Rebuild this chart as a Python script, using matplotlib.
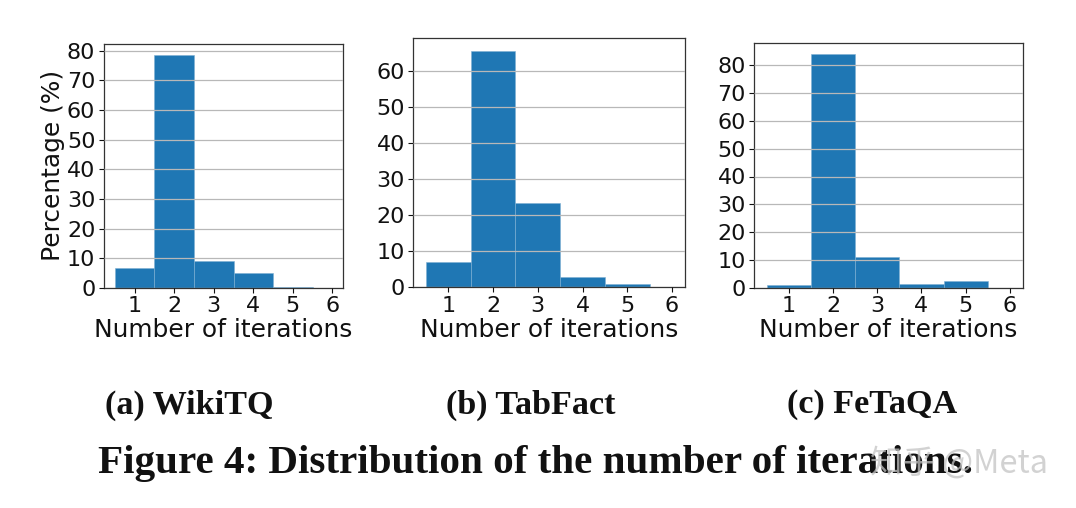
import matplotlib
matplotlib.use('Agg')
import matplotlib.pyplot as plt

# --- Values ---
iterations = [1, 2, 3, 4, 5, 6]
wikitq = [6.9, 78.4, 9.2, 4.9, 0.3, 0.05]
tabfact = [7.0, 65.8, 23.3, 3.0, 0.8, 0.1]
fetaqa = [1.0, 83.8, 11.0, 1.4, 2.5, 0.1]
yticks_a = [0, 10, 20, 30, 40, 50, 60, 70, 80]
yticks_b = [0, 10, 20, 30, 40, 50, 60]
yticks_c = [0, 10, 20, 30, 40, 50, 60, 70, 80]
subcaptions = ['(a) WikiTQ', '(b) TabFact', '(c) FeTaQA']
caption = 'Figure 4: Distribution of the number of iterations.'

W, H = 1076, 508
BLUE = '#1f77b4'
SERIF = 'Liberation Serif'


def make_axes(left, right, top, bottom):
    # pixel box (from top left) to figure fractions
    return fig.add_axes([left / W, 1 - bottom / H, (right - left) / W, (bottom - top) / H])


def draw_panel(ax, values, yticks, xlim, ylim):
    ax.bar(iterations, values, width=1.0, color=BLUE, edgecolor='#7fb0d3', linewidth=0.4)
    ax.set_xlim(*xlim)
    ax.set_ylim(*ylim)
    ax.set_xticks(iterations)
    ax.set_yticks(yticks)
    ax.tick_params(labelsize=16, length=3.5, width=0.8, pad=2.5, colors='#111111')
    ax.set_xlabel('Number of iterations', fontsize=17.9, labelpad=1.5, color='#111111')
    ax.grid(axis='y', color='#b8b8b8', linewidth=0.9)
    ax.set_axisbelow(False)
    for spine in ax.spines.values():
        spine.set_color('#333333')
        spine.set_linewidth(0.9)


fig = plt.figure(figsize=(W / 100, H / 100), dpi=100)

ax1 = make_axes(103.7, 343, 43.5, 288)
draw_panel(ax1, wikitq, yticks_a, (0.215, 6.27), (0, 82.4))
ax1.set_ylabel('Percentage (%)', fontsize=17.9, labelpad=1, color='#111111')

ax2 = make_axes(413.3, 685, 38.3, 287.3)
draw_panel(ax2, tabfact, yticks_b, (0.217, 6.29), (0, 69.2))

ax3 = make_axes(754.3, 1022.7, 42.7, 288)
draw_panel(ax3, fetaqa, yticks_c, (0.22, 6.29), (0, 88.0))

# Captions under the panels
for label, x in zip(subcaptions, [105, 446, 787]):
    fig.text(x / W, 1 - 405 / H, label, family=SERIF, weight='bold', fontsize=24.6,
             va='center', ha='left', color='#111111')
fig.text(98 / W, 1 - 463 / H, caption, family=SERIF, weight='bold', fontsize=29.6,
         va='center', ha='left', color='#111111')

# Watermark
fig.text(870 / W, 1 - 463 / H, '知乎 @Meta', family=['Noto Sans CJK SC', 'DejaVu Sans'],
         fontsize=23.4, va='center', ha='left', color='#c4c4c4', alpha=0.75)

fig.savefig('out.png', dpi=100)
